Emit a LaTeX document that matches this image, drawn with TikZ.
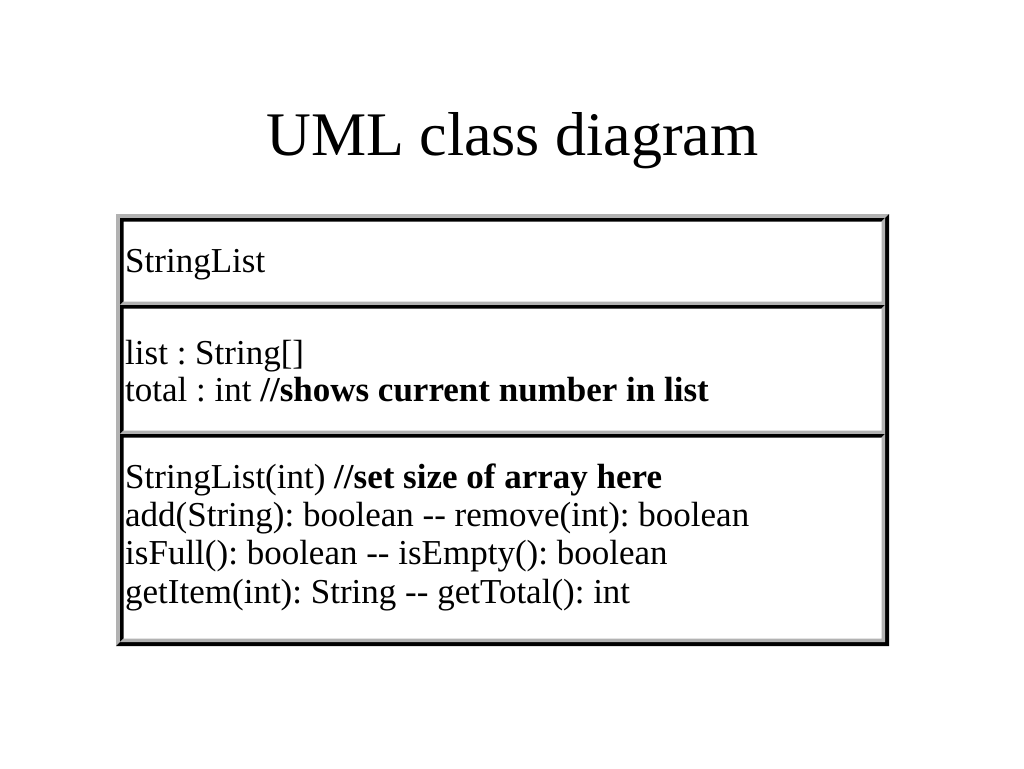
\documentclass[tikz,border=0pt]{standalone}
\usepackage{fontspec}
\setmainfont{Liberation Serif}
\frenchspacing
\newcommand{\bevelrect}[7]{%
  \fill[#6] (#1,#2) -- (#3,#2) -- ({#3-#5},{#2+#5}) -- ({#1+#5},{#2+#5}) -- ({#1+#5},{#4-#5}) -- (#1,#4) -- cycle;
  \fill[#7] (#3,#2) -- (#3,#4) -- (#1,#4) -- ({#1+#5},{#4-#5}) -- ({#3-#5},{#4-#5}) -- ({#3-#5},{#2+#5}) -- cycle;
}
\newcommand{\dblhyph}{-{}-}
\tikzset{
  txt/.style={anchor=base west, inner sep=0pt, font=\fontsize{35}{38}\selectfont},
  titletxt/.style={anchor=base, inner sep=0pt, font=\fontsize{62}{70}\selectfont},
}
\colorlet{bevelgray}{gray!60}
\begin{document}
\begin{tikzpicture}[x=1pt,y=-1pt]
\useasboundingbox (0,0) rectangle (1024,768);
\fill[white] (0,0) rectangle (1024,768);
\node[titletxt] (title) at (512.5,155) {UML class diagram};
% outer table border
\bevelrect{116}{214}{889}{646}{4}{bevelgray}{black}
% cells
\bevelrect{120}{218}{885}{305}{3.5}{black}{bevelgray}
\bevelrect{120}{305}{885}{434}{3.5}{black}{bevelgray}
\bevelrect{120}{434}{885}{642}{3.5}{black}{bevelgray}
% texts
\node[txt] (name) at (125,272) {StringList};
\node[txt] (attr1) at (125,364) {list : String[]};
\node[txt] (attr2) at (125,401) {total : int \textbf{//shows current number in list}};
\node[txt] (op1) at (125,488) {StringList(int) \textbf{//set size of array here}};
\node[txt] (op2) at (125,526) {add(String): boolean \dblhyph{} remove(int): boolean};
\node[txt] (op3) at (125,564) {isFull(): boolean \dblhyph{} isEmpty(): boolean};
\node[txt] (op4) at (125,603) {getItem(int): String \dblhyph{} getTotal(): int};
\end{tikzpicture}
\end{document}
